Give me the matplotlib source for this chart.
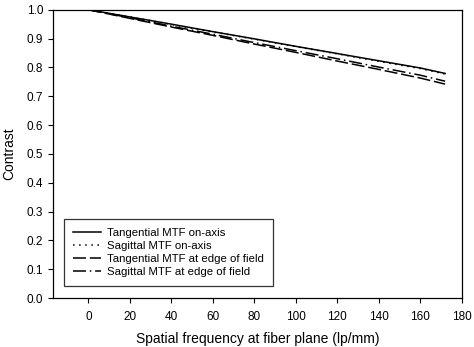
import matplotlib
matplotlib.use("Agg")
import matplotlib.pyplot as plt

plt.rcParams['font.family'] = ['Liberation Sans', 'DejaVu Sans']

freq = [0, 20, 40, 60, 80, 100, 120, 140, 160, 172]
tan_axis = [1.0, 0.975, 0.950, 0.924, 0.899, 0.873, 0.848, 0.823, 0.798, 0.779]
sag_axis = [1.0, 0.975, 0.949, 0.923, 0.898, 0.872, 0.847, 0.821, 0.796, 0.777]
tan_edge = [1.0, 0.970, 0.940, 0.911, 0.881, 0.852, 0.822, 0.793, 0.763, 0.742]
sag_edge = [1.0, 0.972, 0.943, 0.915, 0.886, 0.858, 0.830, 0.801, 0.773, 0.752]
labels = ["Tangential MTF on-axis", "Sagittal MTF on-axis",
          "Tangential MTF at edge of field", "Sagittal MTF at edge of field"]
xticks = [0, 20, 40, 60, 80, 100, 120, 140, 160, 180]
yticks = [0.0, 0.1, 0.2, 0.3, 0.4, 0.5, 0.6, 0.7, 0.8, 0.9, 1.0]

fig = plt.figure(figsize=(4.74, 3.47), dpi=100)
ax = fig.add_axes([0.112, 0.141, 0.863, 0.831])

ax.plot(freq, tan_axis, color='black', lw=1.1, ls='-', label=labels[0])
ax.plot(freq, sag_axis, color='black', lw=1.1, ls=(0, (1, 3)), label=labels[1])
ax.plot(freq, tan_edge, color='black', lw=1.1, ls=(0, (8.5, 2.5)), label=labels[2])
ax.plot(freq, sag_edge, color='black', lw=1.1, ls=(0, (8.5, 2.5, 1, 2.5)), label=labels[3])

ax.set_xlim(-17, 180.2)
ax.set_ylim(0.0, 1.0)
ax.set_xticks(xticks)
ax.set_yticks(yticks)
ax.set_yticklabels([f"{v:.1f}" for v in yticks])
ax.tick_params(axis='both', labelsize=8.5, direction='out', length=3.5, width=0.8)
ax.tick_params(axis='x', pad=6)
for s in ax.spines.values():
    s.set_linewidth(0.9)

ax.set_xlabel("Spatial frequency at fiber plane (lp/mm)", fontsize=10, labelpad=6)
ax.set_ylabel("Contrast", fontsize=10, labelpad=8)

leg = ax.legend(loc='lower left', bbox_to_anchor=(0.027, 0.042), fontsize=8.2,
                frameon=True, fancybox=False, edgecolor='black',
                handlelength=2.4, handletextpad=0.55, borderpad=0.8,
                labelspacing=0.25, borderaxespad=0)
leg.get_frame().set_linewidth(0.9)

fig.savefig("out.png", dpi=100)
